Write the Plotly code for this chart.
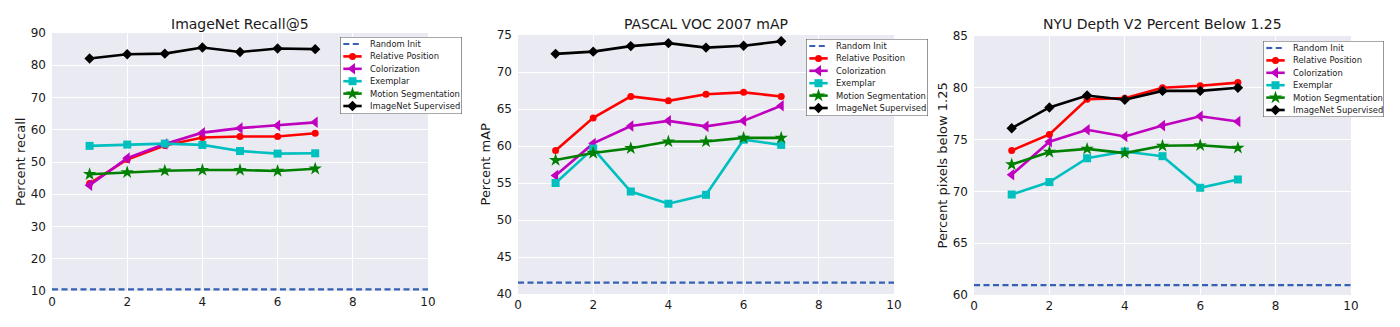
import plotly.graph_objects as go

steps = [1, 2, 3, 4, 5, 6, 7]

legend_labels = ["Random Init", "Relative Position", "Colorization", "Exemplar",
                 "Motion Segmentation", "ImageNet Supervised"]

# ImageNet Recall@5
imagenet_random = 10.5
imagenet_relpos = [43.3, 50.8, 55.1, 57.6, 57.9, 57.9, 58.9]
imagenet_color = [42.8, 51.2, 55.6, 59.1, 60.5, 61.3, 62.3]
imagenet_exemplar = [55.0, 55.4, 55.7, 55.3, 53.4, 52.6, 52.7]
imagenet_motion = [46.2, 46.8, 47.3, 47.5, 47.5, 47.2, 47.9]
imagenet_sup = [82.1, 83.4, 83.6, 85.5, 84.1, 85.2, 85.0]

# PASCAL VOC 2007 mAP
voc_random = 41.55
voc_relpos = [59.4, 63.8, 66.7, 66.1, 67.0, 67.25, 66.7]
voc_color = [56.0, 60.35, 62.7, 63.4, 62.65, 63.4, 65.45]
voc_exemplar = [55.0, 59.65, 53.85, 52.2, 53.4, 60.85, 60.15]
voc_motion = [58.1, 59.05, 59.7, 60.6, 60.6, 61.1, 61.1]
voc_sup = [72.45, 72.75, 73.5, 73.9, 73.3, 73.55, 74.15]

# NYU Depth V2 percent below 1.25
nyu_random = 60.95
nyu_relpos = [73.95, 75.5, 78.9, 79.0, 80.0, 80.2, 80.5]
nyu_color = [71.6, 74.8, 75.95, 75.3, 76.35, 77.25, 76.75]
nyu_exemplar = [69.7, 70.9, 73.2, 73.85, 73.4, 70.35, 71.15]
nyu_motion = [72.6, 73.8, 74.1, 73.7, 74.4, 74.45, 74.2]
nyu_sup = [76.1, 78.1, 79.25, 78.85, 79.7, 79.7, 80.0]

panels = [
    ("ImageNet Recall@5", "Percent recall", imagenet_random,
     [imagenet_relpos, imagenet_color, imagenet_exemplar, imagenet_motion, imagenet_sup],
     [10, 90], 10),
    ("PASCAL VOC 2007 mAP", "Percent mAP", voc_random,
     [voc_relpos, voc_color, voc_exemplar, voc_motion, voc_sup],
     [40, 75], 5),
    ("NYU Depth V2 Percent Below 1.25", "Percent pixels below 1.25", nyu_random,
     [nyu_relpos, nyu_color, nyu_exemplar, nyu_motion, nyu_sup],
     [60, 85], 5),
]

# line/marker style per series (Random Init first)
styles = [
    dict(color="#3461b3", symbol=None, size=0),
    dict(color="#ff0000", symbol="circle", size=7),
    dict(color="#bf00bf", symbol="triangle-left", size=10),
    dict(color="#00bfbf", symbol="square", size=8),
    dict(color="#008000", symbol="star", size=10),
    dict(color="#000000", symbol="diamond", size=8),
]
RANDOM_DASH = "6px,3.5px"

W, H = 1400, 327
FONT = "DejaVu Sans, Arial, sans-serif"
TXT = "#1a1a1a"

# plot-area pixel boxes: (left, right, top, bottom)
boxes = [(52, 428, 33, 291), (518, 894, 35, 294), (974, 1351, 36, 295)]
ylabel_x = [20, 485, 942]
# legend frame pixel boxes: (left, top, width, height)
legend_boxes = [(340, 37, 122, 77), (806, 39, 122, 77), (1263, 41, 121, 76)]
LEG_ROW0, LEG_ROW_STEP = 7.0, 12.4
LEG_LINE = (3.3, 21.7)
LEG_TEXT_X = 27.5

fig = go.Figure()
layout = dict(
    width=W, height=H, autosize=False,
    margin=dict(l=0, r=0, t=0, b=0, pad=0),
    paper_bgcolor="white",
    plot_bgcolor="#eaeaf2",
    showlegend=False,
    font=dict(family=FONT, color=TXT),
    annotations=[],
)

for i, (title, ylabel, rnd, ys, yr, dt) in enumerate(panels):
    n = "" if i == 0 else str(i + 1)
    fig.add_trace(go.Scatter(
        x=[0, 10], y=[rnd, rnd], mode="lines", name=legend_labels[0],
        line=dict(color=styles[0]["color"], width=2.2, dash=RANDOM_DASH),
        xaxis="x" + n, yaxis="y" + n))
    for name, vals, st in zip(legend_labels[1:], ys, styles[1:]):
        fig.add_trace(go.Scatter(
            x=steps, y=vals, mode="lines+markers", name=name,
            line=dict(color=st["color"], width=2.6),
            marker=dict(color=st["color"], symbol=st["symbol"], size=st["size"],
                        line=dict(width=0)),
            xaxis="x" + n, yaxis="y" + n))

    l, r, t, b = boxes[i]
    xd = [l / W, r / W]
    yd = [1 - b / H, 1 - t / H]
    axis_common = dict(
        showgrid=True, gridcolor="white", gridwidth=1.3, zeroline=False,
        showline=False, ticks="", tickfont=dict(size=12, color=TXT),
        automargin=False,
    )
    layout["xaxis" + n] = dict(domain=xd, range=[0, 10], dtick=2, tick0=0,
                               anchor="y" + n, ticklabelstandoff=2, **axis_common)
    layout["yaxis" + n] = dict(domain=yd, range=yr, dtick=dt, anchor="x" + n,
                               ticklabelstandoff=5, **axis_common)
    layout["annotations"].append(dict(
        text=title, x=(xd[0] + xd[1]) / 2, y=1 - 24 / H,
        xref="paper", yref="paper", xanchor="center", yanchor="middle",
        showarrow=False, font=dict(size=14, color=TXT, family=FONT),
    ))
    layout["annotations"].append(dict(
        text=ylabel, x=ylabel_x[i] / W, y=1 - (t + b) / 2 / H, textangle=-90,
        xref="paper", yref="paper", xanchor="center", yanchor="middle",
        showarrow=False, font=dict(size=13, color=TXT, family=FONT),
    ))

    # legend panel on its own pixel-scaled axes
    k = str(4 + i)
    lx, ly, lw, lh = legend_boxes[i]
    layout["xaxis" + k] = dict(domain=[lx / W, (lx + lw) / W], range=[0, lw],
                               anchor="y" + k, visible=False, fixedrange=True)
    layout["yaxis" + k] = dict(domain=[1 - (ly + lh) / H, 1 - ly / H], range=[lh, 0],
                               anchor="x" + k, visible=False, fixedrange=True)
    fig.add_trace(go.Scatter(
        x=[0, lw, lw, 0, 0], y=[0, 0, lh, lh, 0], mode="lines", fill="toself",
        fillcolor="white", line=dict(color="#555555", width=1.2),
        hoverinfo="skip", xaxis="x" + k, yaxis="y" + k))
    for j, (lab, st) in enumerate(zip(legend_labels, styles)):
        ry = LEG_ROW0 + j * LEG_ROW_STEP
        mid = (LEG_LINE[0] + LEG_LINE[1]) / 2
        fig.add_trace(go.Scatter(
            x=[LEG_LINE[0], LEG_LINE[1]], y=[ry, ry], mode="lines",
            line=dict(color=st["color"], width=2.2 if j == 0 else 2.6,
                      dash=RANDOM_DASH if j == 0 else "solid"),
            hoverinfo="skip", xaxis="x" + k, yaxis="y" + k))
        if st["symbol"]:
            fig.add_trace(go.Scatter(
                x=[mid], y=[ry], mode="markers",
                marker=dict(color=st["color"], symbol=st["symbol"],
                            size=st["size"], line=dict(width=0)),
                hoverinfo="skip", xaxis="x" + k, yaxis="y" + k))
        layout["annotations"].append(dict(
            text=lab, x=LEG_TEXT_X, y=ry, xref="x" + k, yref="y" + k,
            xanchor="left", yanchor="middle", showarrow=False,
            font=dict(size=8.4, color=TXT, family=FONT),
        ))

fig.update_layout(**layout)
fig.write_html("out.html", config={"responsive": False, "displayModeBar": False})
